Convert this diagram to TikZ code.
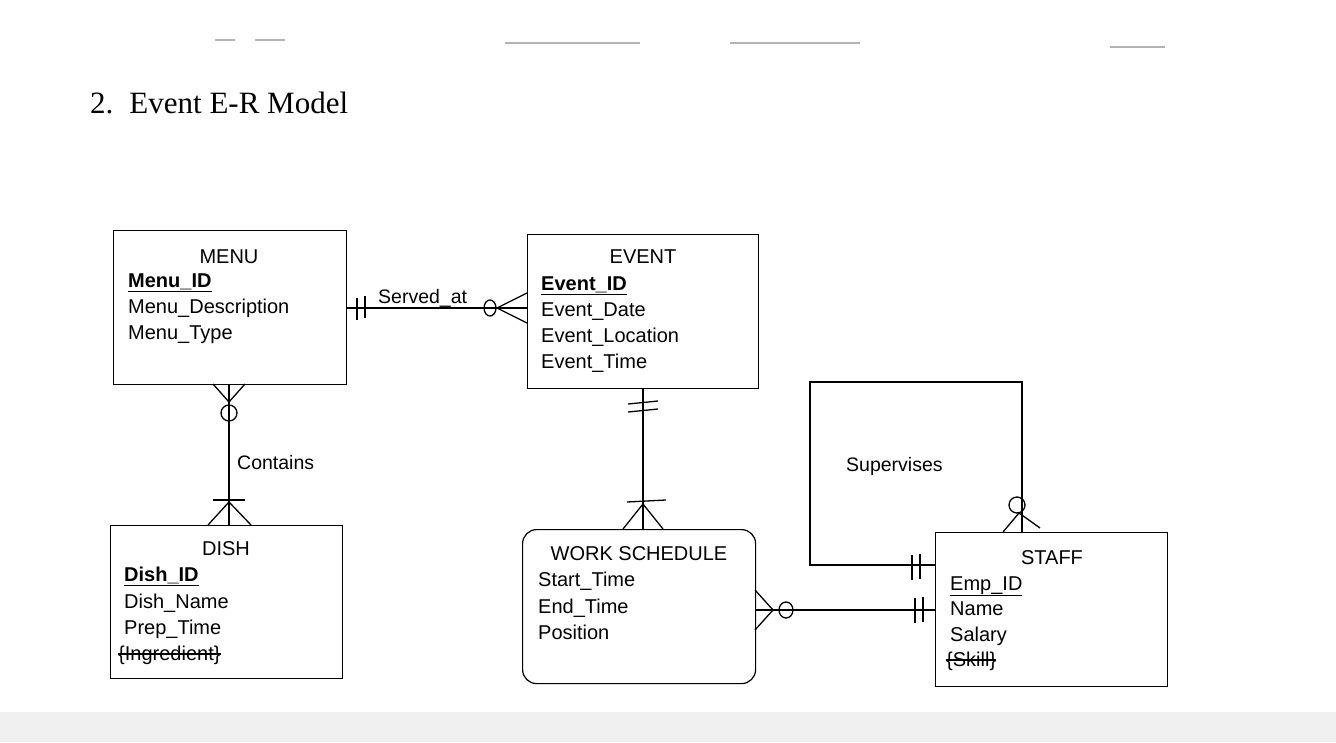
\documentclass[tikz,border=0pt]{standalone}
\usepackage{fontspec}
\setmainfont{Liberation Sans}
\newfontfamily\titlefont{Liberation Serif}
\begin{document}
\begin{tikzpicture}[x=1pt,y=-1pt,
  ent/.style={draw,line width=1.2pt,minimum width=#1,anchor=north west,inner sep=0pt},
  ent/.default=233pt,
  attr/.style={anchor=base west,inner sep=0pt,font=\fontsize{20}{22}\selectfont},
  ttl/.style={anchor=base,inner sep=0pt,font=\fontsize{20}{22}\selectfont},
  rel/.style={line width=1.3pt},
  lbl/.style={anchor=base west,inner sep=0pt,font=\fontsize{19.5}{22}\selectfont}]
\useasboundingbox (0,0) rectangle (1336,742);
\fill[gray!12] (0,712) rectangle (1336,742);
\draw[gray!60,line width=1.5pt] (215,40)--(235,40) (255,40)--(285,40) (505,43)--(640,43) (730,43)--(860,43) (1110,47)--(1165,47);
\node[anchor=base west,inner sep=0pt,font=\titlefont\fontsize{31}{34}\selectfont] (title) at (90,113) {2.\hspace{16pt}Event E-R Model};

% entities
\node[ent,minimum height=154pt] (menu) at (113,230) {};
\node[ttl] (menut) at (229,263) {MENU};
\node[attr] (m1) at (128,287) {\underline{\textbf{Menu\_ID}}};
\node[attr] (m2) at (128,313) {Menu\_Description};
\node[attr] (m3) at (128,339) {Menu\_Type};

\node[ent=231pt,minimum height=154pt] (event) at (527,234) {};
\node[ttl] (eventt) at (643,263) {EVENT};
\node[attr] (e1) at (541,290) {\underline{\textbf{Event\_ID}}};
\node[attr] (e2) at (541,316) {Event\_Date};
\node[attr] (e3) at (541,342) {Event\_Location};
\node[attr] (e4) at (541,368) {Event\_Time};

\node[ent=232pt,minimum height=153pt] (dish) at (110,525) {};
\node[ttl] (disht) at (226,555) {DISH};
\node[attr] (d1) at (124,581) {\underline{\textbf{Dish\_ID}}};
\node[attr] (d2) at (124,608) {Dish\_Name};
\node[attr] (d3) at (124,634) {Prep\_Time};
\node[attr] (d4) at (118,660) {\{Ingredient\}};
\draw[line width=1.2pt] ([yshift=6pt]d4.base west) -- ([yshift=6pt]d4.base east);

\node[ent,minimum height=154pt,rounded corners=14pt] (ws) at (522,529) {};
\node[ttl] (wst) at (639,560) {WORK SCHEDULE};
\node[attr] (w1) at (538,586) {Start\_Time};
\node[attr] (w2) at (538,613) {End\_Time};
\node[attr] (w3) at (538,639) {Position};

\node[ent=232pt,minimum height=154pt] (staff) at (935,532) {};
\node[ttl] (stafft) at (1052,564) {STAFF};
\node[attr] (s1) at (950,590) {\underline{Emp\_ID}};
\node[attr] (s2) at (950,615) {Name};
\node[attr] (s3) at (950,641) {Salary};
\node[attr] (s4) at (946,666) {\{Skill\}};
\draw[line width=1.2pt] ([yshift=6pt]s4.base west) -- ([yshift=6pt]s4.base east);

% Served_at
\draw[rel] (menu.east |- 0,308) -- (event.west |- 0,308);
\draw[rel] (357,298)--(357,320) (365,296)--(365,318);
\draw[rel] (490,308) ellipse[x radius=6pt,y radius=8pt];
\draw[rel] (527,293)--(497,308)--(527,323) (497,308)--(527,308);
\node[lbl] (served) at (378,303) {Served\_at};

% Contains
\draw[rel] (menu.south -| 229,0) -- (dish.north -| 229,0);
\draw[rel] (213,384)--(229,402)--(245,384);
\draw[rel] (229,413) circle[radius=8pt];
\draw[rel] (213,500)--(245,500);
\draw[rel] (208,525)--(229,502)--(251,525) (229,502)--(229,525);
\node[lbl] (contains) at (237,469) {Contains};

% Event - Work schedule
\draw[rel] (event.south -| 643,0) -- (ws.north -| 643,0);
\draw[rel] (628,404)--(658,401) (628,412)--(658,409);
\draw[rel] (627,502)--(666,500);
\draw[rel] (623,529)--(643,504)--(663,529);

% Work schedule - Staff
\draw[rel] (ws.east |- 0,610) -- (staff.west |- 0,610);
\draw[rel] (755,590)--(773,610)--(755,630);
\draw[rel] (786,610) ellipse[x radius=7pt,y radius=8pt];
\draw[rel] (915,598)--(915,623) (923,597)--(923,622);

% Supervises
\coordinate (c1) at (810,565);
\coordinate (c2) at (810,382);
\coordinate (c3) at (1022,382);
\draw[rel] (staff.west |- 0,565) -- (c1) -- (c2) -- (c3) -- (staff.north -| 1022,0);
\draw[rel] (912,555)--(912,580) (920,554)--(920,579);
\draw[rel] (1017,505) circle[radius=8pt];
\draw[rel] (1003,532)--(1019,513)--(1040,528);
\node[lbl] (sup) at (846,471) {Supervises};
\end{tikzpicture}
\end{document}
